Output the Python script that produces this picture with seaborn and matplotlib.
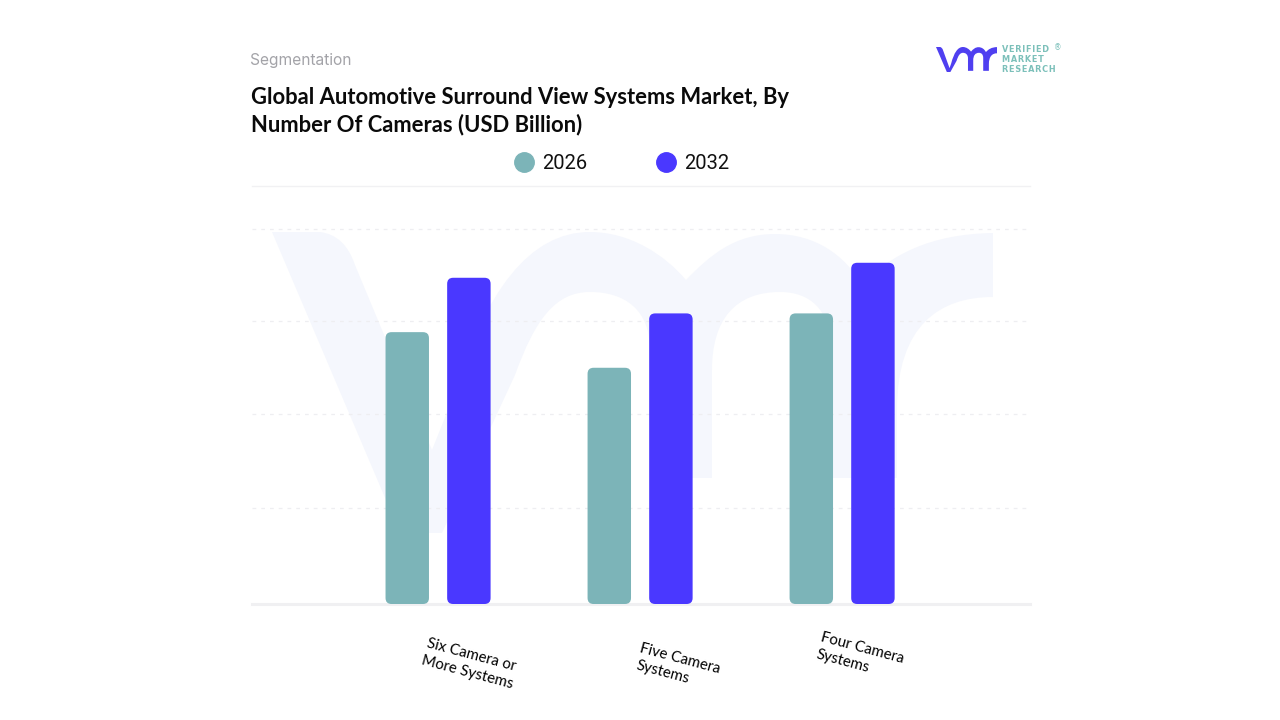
import matplotlib
matplotlib.use('Agg')
import matplotlib.pyplot as plt
import matplotlib.transforms as mtrans
from matplotlib.lines import Line2D
from matplotlib.patches import FancyBboxPatch, PathPatch
from matplotlib.path import Path
import pandas as pd
import seaborn as sns

# values
segments = ['Six Camera or\nMore Systems', 'Five Camera\nSystems', 'Four Camera\nSystems']
years = ['2026', '2032']
values_2026 = [2.90, 2.52, 3.10]
values_2032 = [3.48, 3.10, 3.64]
grid_levels = [1.024, 2.027, 3.02, 4.0]
bar_colors = ['#7CB4B8', '#4A38FF']

df = pd.DataFrame({
    'segment': segments * 2,
    'year': [years[0]] * 3 + [years[1]] * 3,
    'value': values_2026 + values_2032,
})

W, H = 1280, 720
sns.set_style('white')
fig = plt.figure(figsize=(W / 100, H / 100), dpi=100)
ax = fig.add_axes([252 / W, 1 - 604 / H, 778 / W, 418 / H])
ax.patch.set_visible(False)

sns.barplot(data=df, x='segment', y='value', hue='year', order=segments, hue_order=years,
            palette=bar_colors, saturation=1, width=0.61, gap=0.295, legend=False, ax=ax, zorder=3)

ax.set_xlim(-0.921, 2.93)
ax.set_ylim(0, 4.459)

# swap the square bars for rounded ones
x_unit = 778 / (2.93 + 0.921)
y_unit = 418 / 4.459
radius = 6 / x_unit
for bar in list(ax.patches):
    rounded = FancyBboxPatch((bar.get_x(), bar.get_y()), bar.get_width(), bar.get_height(),
                             boxstyle=f'round,pad=0,rounding_size={radius}',
                             mutation_aspect=x_unit / y_unit,
                             facecolor=bar.get_facecolor(), edgecolor='none', zorder=3)
    bar.remove()
    ax.add_patch(rounded)

# grid + frame
ax.set_yticks(grid_levels)
ax.tick_params(axis='y', left=False, labelleft=False)
ax.tick_params(axis='x', bottom=False)
ax.grid(axis='y', color='#EEEEF1', linestyle=(0, (3, 4)), linewidth=0.9, zorder=1)
ax.set_axisbelow(True)
ax.set_xlabel('')
ax.set_ylabel('')
for side in ['left', 'right']:
    ax.spines[side].set_visible(False)
ax.spines['top'].set_color('#F1F1F3')
ax.spines['top'].set_linewidth(1.0)
ax.spines['bottom'].set_color('#F0F0F2')
ax.spines['bottom'].set_linewidth(2.2)

# x labels, each one sits at its own offset
label_offsets = [(32, -50), (38, -54), (18, -43)]
ax.set_xticks(range(3))
ax.set_xticklabels(segments, rotation=-15, ha='center', va='center', rotation_mode='anchor',
                   multialignment='left', family='Lato', fontsize=10.8, color='#000000', linespacing=1.35)
for lab, (dx, dy) in zip(ax.get_xticklabels(), label_offsets):
    lab.set_transform(lab.get_transform() + mtrans.ScaledTranslation(dx / 100, dy / 100, fig.dpi_scale_trans))

# vmr mark outline, in pixels of the watermark
C3, C4, L, M = Path.CURVE3, Path.CURVE4, Path.LINETO, Path.MOVETO
mark = [
    (M, (272, 232)), (L, (320, 232)), (C3, (345, 235)), (C3, (355, 265)),
    (L, (432, 450)), (L, (452, 400)), (C4, (485, 290)), (C4, (530, 232)), (C4, (590, 232)),
    (C4, (630, 232)), (C4, (665, 255)), (C4, (686, 280)),
    (C4, (710, 255)), (C4, (735, 234)), (C4, (775, 234)),
    (C4, (815, 234)), (C4, (845, 255)), (C4, (862, 285)),
    (C4, (890, 255)), (C4, (930, 234)), (C4, (993, 233)),
    (L, (993, 297)), (C4, (940, 297)), (C4, (897, 325)), (C4, (897, 410)),
    (L, (897, 478)), (L, (830, 478)), (L, (830, 345)),
    (C4, (830, 310)), (C4, (810, 292)), (C4, (780, 292)),
    (C4, (735, 292)), (C4, (712, 320)), (C4, (712, 370)),
    (L, (712, 478)), (L, (650, 478)), (L, (650, 350)),
    (C4, (650, 310)), (C4, (625, 292)), (C4, (590, 292)),
    (C4, (555, 292)), (C4, (535, 320)), (C4, (515, 375)),
    (L, (442, 533)), (L, (400, 533)), (L, (272, 232)),
]
codes = [c for c, _ in mark]
pts = [p for _, p in mark]


def mark_patch(x0, y0, sx, sy, color, z, bottom):
    verts = [((x0 + (px - 272) * sx) / W, 1 - (y0 + (min(py, bottom) - 232) * sy) / H) for px, py in pts]
    fig.add_artist(PathPatch(Path(verts, codes), transform=fig.transFigure, facecolor=color,
                             edgecolor='none', zorder=z))


mark_patch(272, 232, 1, 1, '#F5F7FD', -1, 533)  # watermark
mark_patch(936, 47, 61 / 721, 25 / 258, '#4F3FF0', 2, 490)  # logo

# logo text
for txt, ypix in zip(['VERIFIED', 'MARKET', 'RESEARCH'], [50, 60, 69.5]):
    fig.text(1002 / W, 1 - ypix / H, '\u200a'.join(txt), family='DejaVu Sans', fontsize=5.9,
             fontweight='bold', color='#7CC0BA', va='center', ha='left')
fig.text(1054 / W, 1 - 48 / H, '®', fontsize=5.5, color='#7CC0BA', va='center', ha='left')

# headings
fig.text(250 / W, 1 - 60 / H, 'Segmentation', family='Inter', fontsize=11.2, color='#A3A3A8',
         va='center', ha='left')
fig.text(251 / W, 1 - 97 / H, 'Global Automotive Surround View Systems Market, By', family='Lato',
         fontsize=15.88, fontweight='bold', color='#0A0A0A', va='center', ha='left')
fig.text(251 / W, 1 - 125 / H, 'Number Of Cameras (USD Billion)', family='Lato',
         fontsize=15.88, fontweight='bold', color='#0A0A0A', va='center', ha='left')

# legend
handles = [Line2D([], [], linestyle='none', marker='o', markersize=14, color=c, label=y)
           for c, y in zip(bar_colors, years)]
fig.legend(handles=handles, ncol=2, frameon=False, loc='center left',
           bbox_to_anchor=(514 / W, 1 - 163.5 / H), prop={'family': 'Roboto', 'size': 14.5},
           handlelength=1, handletextpad=0.4, columnspacing=3.4, borderpad=0, borderaxespad=0,
           labelcolor='#111111')

fig.savefig('out.png', dpi=100)
